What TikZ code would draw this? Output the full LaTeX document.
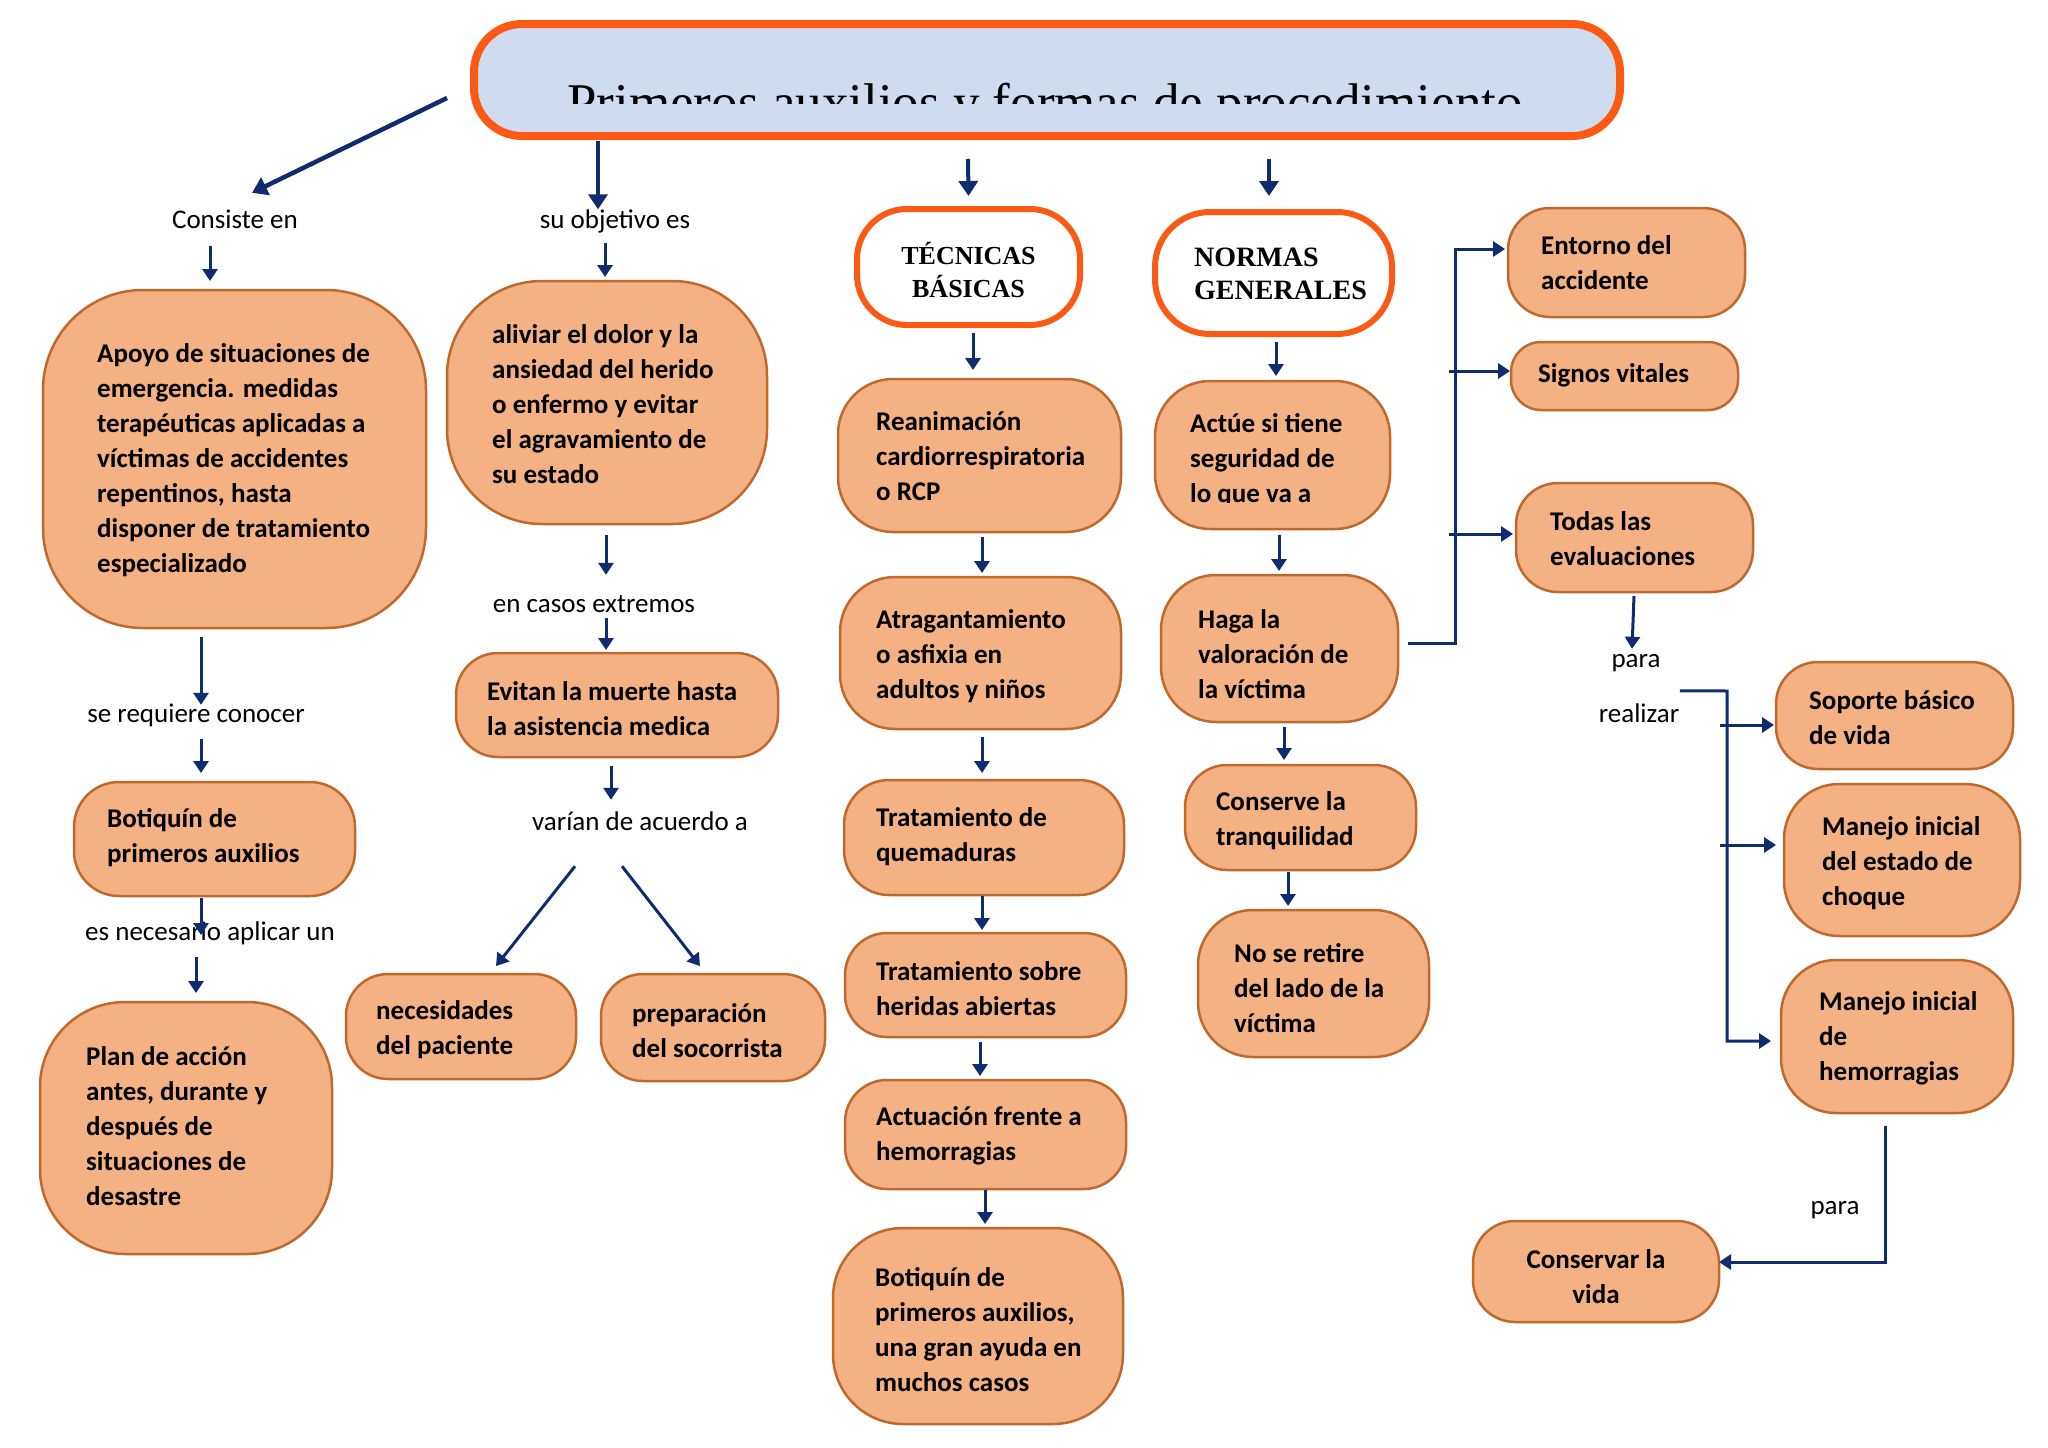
\documentclass[tikz,border=0pt]{standalone}
\usepackage{fontspec}
\setmainfont{Carlito}
\newfontfamily\serifb{Liberation Serif}
\usetikzlibrary{arrows.meta,fit,calc}
\definecolor{peach}{HTML}{F4B183}
\definecolor{peachd}{HTML}{C0692C}
\definecolor{navy}{HTML}{0E2C6E}
\definecolor{orng}{HTML}{FA5A14}
\definecolor{titlebg}{HTML}{CFDCEF}
\newcommand\pbx[9]{%
  \node[pbox,rounded corners=#6,fit={(#2,#3)(#4,#5)}] (#1) {};
  \node[btxt] (#1t) at (#7,#8) {#9};}
\begin{document}
\begin{tikzpicture}[x=1pt,y=-1pt,
 pbox/.style={draw=peachd,fill=peach,line width=2.5pt,inner sep=0pt,outer sep=0pt},
 obox/.style={draw=orng,fill=white,line width=6pt,inner sep=0pt,outer sep=0pt},
 btxt/.style={font=\fontsize{27}{35}\selectfont\bfseries,align=left,inner sep=0pt,anchor=west},
 lbl/.style={font=\fontsize{27}{33}\selectfont,inner sep=0pt,text height=19pt,text depth=6pt},
 arr/.style={draw=navy,line width=3pt,-{Triangle[width=15pt,length=12pt]}},
 arrT/.style={arr,line width=4.5pt,-{Triangle[width=19pt,length=15pt]}}]
\useasboundingbox (0,0) rectangle (2048,1448);
\fill[white] (0,0) rectangle (2048,1448);

% title
\node[draw=orng,fill=titlebg,line width=8pt,rounded corners=48,inner sep=0pt,outer sep=0pt,fit={(474,24)(1620,136)}] (T) {};
\begin{scope}
\clip (478,28) rectangle (1616,103);
\node[anchor=base,inner sep=0pt,font=\serifb\fontsize{53}{60}\selectfont] (Tt) at (1045,120) {Primeros auxilios y formas de procedimiento};
\end{scope}

% column 1
\pbx{A1}{43}{290}{426}{628}{100}{97}{460}{Apoyo de situaciones de\\emergencia. medidas\\terapéuticas aplicadas a\\víctimas de accidentes\\repentinos, hasta\\disponer de tratamiento\\especializado}
\pbx{A2}{74}{782}{355}{896}{45}{107}{838}{Botiquín de\\primeros auxilios}
\pbx{A3}{40}{1002}{332}{1254}{85}{86}{1126}{Plan de acción\\antes, durante y\\después de\\situaciones de\\desastre}

% column 2
\pbx{B1}{447}{281}{767}{524}{95}{492}{404}{aliviar el dolor y la\\ansiedad del herido\\o enfermo y evitar\\el agravamiento de\\su estado}
\pbx{B2}{456}{653}{778}{757}{42}{487}{709}{Evitan la muerte hasta\\la asistencia medica}
\pbx{B3}{346}{974}{576}{1079}{42}{376}{1030}{necesidades\\del paciente}
\pbx{B4}{601}{974}{825}{1081}{42}{632}{1031}{preparación\\del socorrista}

% column 3
\node[obox,rounded corners=50,fit={(857,209)(1080,325)}] (C0) {};
\node[font=\serifb\bfseries\fontsize{26}{33}\selectfont,align=center,inner sep=0pt] (C0t) at (968.5,270) {TÉCNICAS\\BÁSICAS};
\pbx{C1}{838}{379}{1121}{532}{55}{876}{456}{Reanimación\\cardiorrespiratoria\\o RCP}
\pbx{C2}{840}{577}{1121}{729}{55}{876}{656}{Atragantamiento\\o asfixia en\\adultos y niños}
\pbx{C3}{844}{780}{1124}{895}{45}{876}{837}{Tratamiento de\\quemaduras}
\pbx{C4}{845}{933}{1126}{1037}{42}{876}{989}{Tratamiento sobre\\heridas abiertas}
\pbx{C5}{845}{1080}{1126}{1189}{42}{876}{1136}{Actuación frente a\\hemorragias}
\pbx{C6}{833}{1228}{1123}{1424}{70}{875}{1330}{Botiquín de\\primeros auxilios,\\una gran ayuda en\\muchos casos}

% column 4
\node[obox,rounded corners=55,fit={(1155,212)(1392,334)}] (D0) {};
\node[font=\serifb\bfseries\fontsize{28}{33}\selectfont,align=left,anchor=west,inner sep=0pt] (D0t) at (1194,274) {NORMAS\\GENERALES};
\node[pbox,rounded corners=55,fit={(1155,381)(1390,529)}] (D1) {};
\begin{scope}
\clip (1155,381) rectangle (1390,502);
\node[btxt] (D1t) at (1190,460) {Actúe si tiene\\seguridad de\\lo que va a};
\end{scope}
\pbx{D2}{1161}{575}{1398}{722}{55}{1198}{654}{Haga la\\valoración de\\la víctima}
\pbx{D3}{1185}{765}{1416}{870}{42}{1216}{821}{Conserve la\\tranquilidad}
\pbx{D4}{1198}{910}{1429}{1057}{55}{1234}{988}{No se retire\\del lado de la\\víctima}

% right side
\pbx{E1}{1508}{208}{1745}{317}{42}{1541}{263}{Entorno del\\accidente}
\pbx{E2}{1511}{342}{1738}{410}{30}{1538}{375}{Signos vitales}
\pbx{E3}{1516}{483}{1753}{592}{42}{1550}{539}{Todas las\\evaluaciones}
\pbx{F1}{1776}{662}{2013}{769}{42}{1809}{718}{Soporte básico\\de vida}
\pbx{F2}{1784}{784}{2020}{936}{55}{1822}{863}{Manejo inicial\\del estado de\\choque}
\pbx{F3}{1781}{960}{2013}{1113}{55}{1819}{1038}{Manejo inicial\\de\\hemorragias}
\node[pbox,rounded corners=42,fit={(1473,1221)(1719,1322)}] (G) {};
\node[btxt,anchor=center,align=center] (Gt) at (1596,1277) {Conservar la\\vida};

% labels
\node[lbl] (L1) at (235,222) {Consiste en};
\node[lbl] (L2) at (615,222) {su objetivo es};
\node[lbl] (L3) at (196,716) {se requiere conocer};
\node[lbl] (L4) at (210,934) {es necesario aplicar un};
\node[lbl] (L5) at (594,606) {en casos extremos};
\node[lbl] (L6) at (640,824) {varían de acuerdo a};
\node[lbl] (L7) at (1636,661) {para};
\node[lbl] (L8) at (1639,716) {realizar};
\node[lbl] (L9) at (1835,1208) {para};

% arrows from title
\draw[arrT] ([shift={(-27,18)}]T.west) -- ([shift={(17,-16.5)}]L1.north);
\draw[arrT] ([shift={(-449,5)}]T.south) -- ([shift={(-17,0)}]L2.north);
\draw[arrT,line width=4pt] ([shift={(-79,23)}]T.south) -- ([shift={(0,-13)}]C0.north);
\draw[arrT,line width=4pt] ([shift={(222,23)}]T.south) -- ([shift={(-4.5,-16)}]D0.north);

% column 1 and 2 arrows
\draw[arr] ([shift={(-25,11.5)}]L1.south) -- ([shift={(-24.5,-9)}]A1.north);
\draw[arr] ([shift={(-10,8.5)}]L2.south) -- ([shift={(-2,-4)}]B1.north);
\draw[arr] ([shift={(-33.5,9)}]A1.south) -- ([shift={(5,1.5)}]L3.north);
\draw[arr] ([shift={(5,10.5)}]L3.south) -- ([shift={(-13.5,-9)}]A2.north);
\draw[arr] ([shift={(-13.5,2)}]A2.south) -- ([shift={(-9,1)}]L4.center);
\draw[arr] ([shift={(-14,10.5)}]L4.south) -- ([shift={(10,-9)}]A3.north);
\draw[arr] ([shift={(-1,11)}]B1.south) -- ([shift={(12,-18.5)}]L5.north);
\draw[arr] ([shift={(12,12)}]L5.center) -- ([shift={(-11,-3)}]B2.north);
\draw[arr] ([shift={(-6,9)}]B2.south) -- ([shift={(-29,-11.5)}]L6.north);
\draw[arr] ([shift={(-65,29.5)}]L6.south) -- ([shift={(35,-8)}]B3.north);
\draw[arr] ([shift={(-18,29.5)}]L6.south) -- ([shift={(-13,-8)}]B4.north);

% column 3 arrows
\draw[arr] ([shift={(4.5,8)}]C0.south) -- ([shift={(-6.5,-9)}]C1.north);
\draw[arr] ([shift={(2.5,5)}]C1.south) -- ([shift={(1.5,-4)}]C2.north);
\draw[arr] ([shift={(1.5,8)}]C2.south) -- ([shift={(-2,-7)}]C3.north);
\draw[arr] ([shift={(-2,1)}]C3.south) -- ([shift={(-3.5,-3)}]C4.north);
\draw[arr] ([shift={(-5.5,5)}]C4.south) -- ([shift={(-5.5,-4)}]C5.north);
\draw[arr] ([shift={(-0.5,1)}]C5.south) -- ([shift={(7,-4)}]C6.north);

% column 4 arrows
\draw[arr] ([shift={(2.5,8)}]D0.south) -- ([shift={(3.5,-5)}]D1.north);
\draw[arr] ([shift={(6.5,6)}]D1.south) -- ([shift={(-0.5,-4)}]D2.north);
\draw[arr] ([shift={(4.5,5)}]D2.south) -- ([shift={(-16.5,-5)}]D3.north);
\draw[arr] ([shift={(-12.5,2)}]D3.south) -- ([shift={(-25.5,-4)}]D4.north);

% bracket to E boxes
\coordinate (bx) at (1455,249);
\draw[arr] ([shift={(10,-5)}]D2.east) -| (bx) -- ([shift={(-3,-13.5)}]E1.west);
\draw[arr] ([shift={(-62,-5)}]E2.west) -- ([shift={(-1,-5)}]E2.west);
\draw[arr] ([shift={(-67,-3.5)}]E3.west) -- ([shift={(-3,-3.5)}]E3.west);
\draw[arr] ([shift={(-0.5,4)}]E3.south) -- ([shift={(-4,0.5)}]L7.north);

% bracket to F boxes
\coordinate (bx2) at (1727,691);
\draw[arr] ([shift={(0.5,-12.5)}]L8.north east) -- (bx2) |- ([shift={(-10,4.5)}]F3.west);
\draw[arr] ([shift={(-56,9.5)}]F1.west) -- ([shift={(-2,9.5)}]F1.west);
\draw[arr] ([shift={(-64,-15)}]F2.west) -- ([shift={(-8,-15)}]F2.west);
\draw[arr] ([shift={(-12,13)}]F3.south) |- ([shift={(0,-9.5)}]G.east);
\end{tikzpicture}
\end{document}
